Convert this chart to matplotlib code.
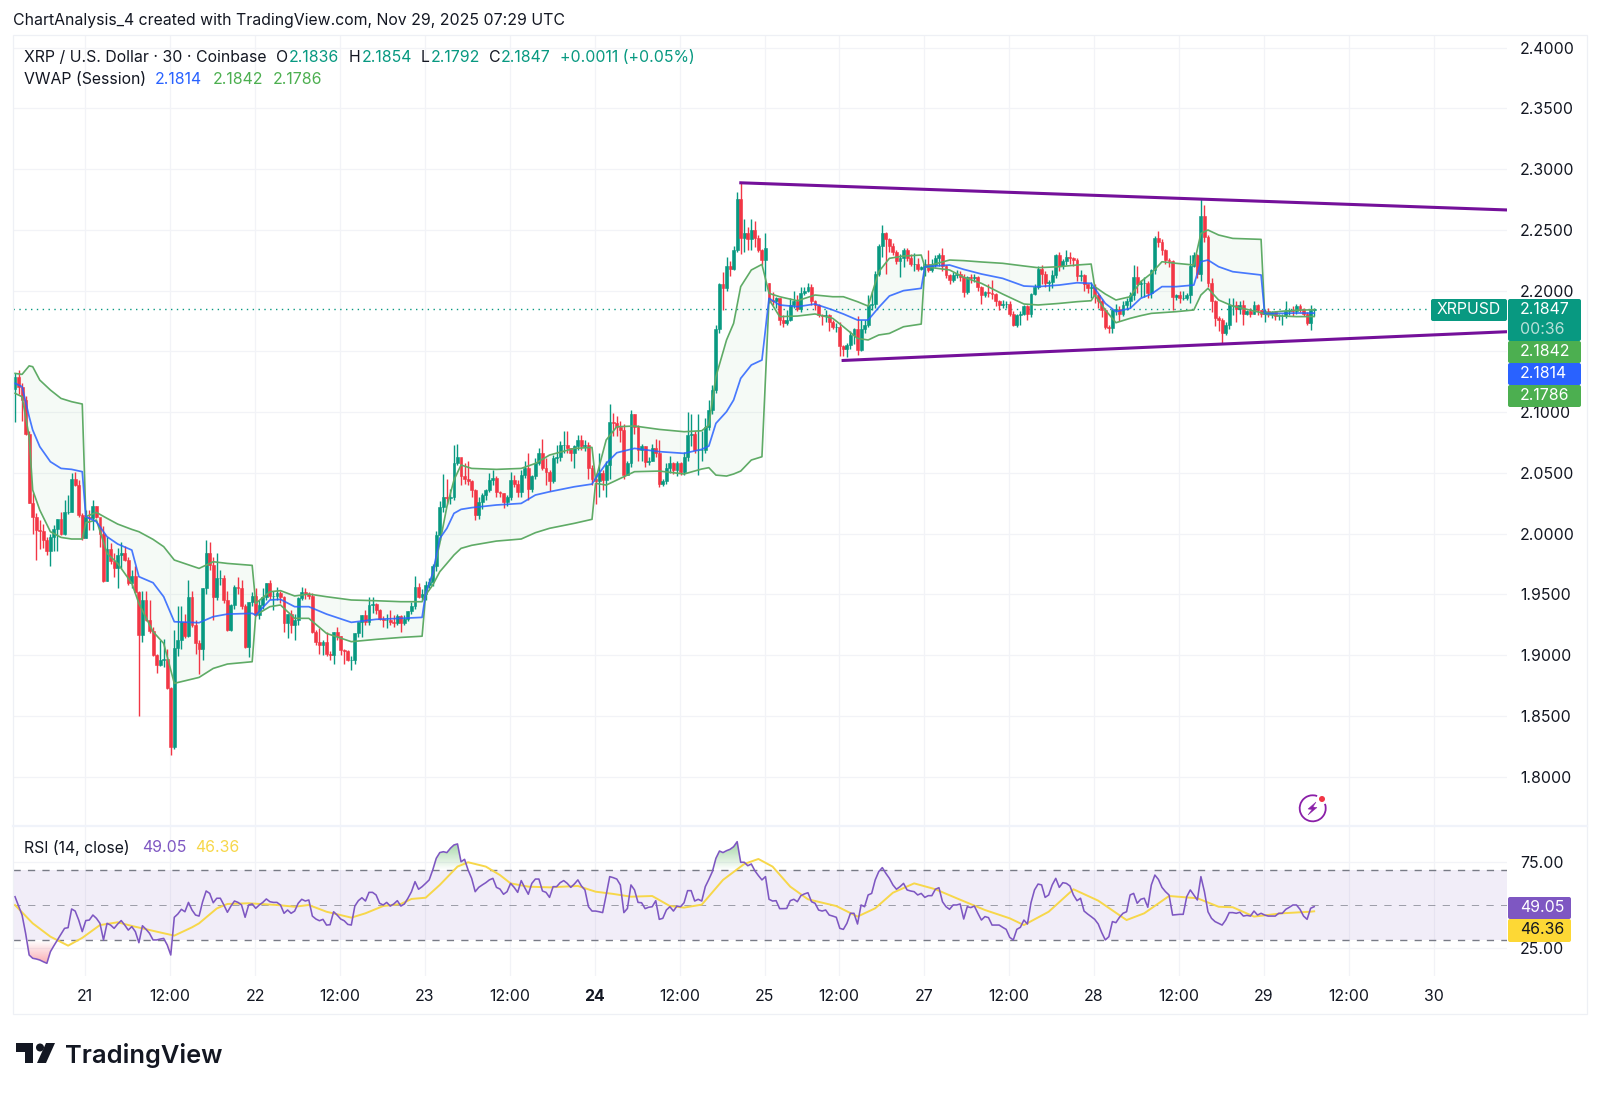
import numpy as np
import matplotlib
matplotlib.use("Agg")
import matplotlib.pyplot as plt
from matplotlib.patches import FancyBboxPatch, Polygon, Circle, Arc, Rectangle, PathPatch
from matplotlib.path import Path

plt.rcParams['font.family'] = ['Inter', 'DejaVu Sans']

# 30 minute candles
closes = [
    2.129,2.121,2.110,2.082,2.025,2.014,2.003,2.002,1.995,1.986,
    1.997,2.004,2.012,2.000,2.018,2.018,2.045,2.040,2.015,1.996,
    2.014,2.013,2.023,2.014,2.000,1.961,1.987,1.977,1.972,1.982,
    1.984,1.978,1.959,1.965,1.952,1.9165,1.945,1.929,1.920,1.900,
    1.892,1.896,1.897,1.873,1.8245,1.9055,1.912,1.927,1.916,1.948,
    1.925,1.910,1.905,1.955,1.984,1.974,1.948,1.963,1.963,1.945,
    1.921,1.941,1.956,1.955,1.940,1.907,1.944,1.949,1.933,1.941,
    1.948,1.959,1.949,1.949,1.951,1.948,1.926,1.934,1.925,1.929,
    1.947,1.952,1.950,1.949,1.919,1.911,1.908,1.911,1.901,1.900,
    1.919,1.916,1.904,1.903,1.896,1.896,1.918,1.927,1.933,1.927,
    1.941,1.942,1.937,1.930,1.929,1.929,1.927,1.926,1.932,1.926,
    1.930,1.936,1.940,1.956,1.948,1.950,1.958,1.960,1.973,1.999,
    2.022,2.030,2.029,2.030,2.058,2.063,2.047,2.045,2.043,2.036,
    2.015,2.026,2.032,2.036,2.044,2.046,2.034,2.033,2.026,2.030,
    2.044,2.041,2.034,2.048,2.054,2.037,2.047,2.058,2.066,2.054,
    2.051,2.043,2.062,2.063,2.073,2.073,2.070,2.066,2.072,2.077,
    2.072,2.073,2.054,2.045,2.043,2.050,2.044,2.056,2.092,2.091,
    2.088,2.085,2.048,2.058,2.098,2.088,2.069,2.072,2.059,2.060,
    2.070,2.066,2.041,2.043,2.054,2.058,2.052,2.058,2.051,2.063,
    2.081,2.082,2.069,2.069,2.069,2.088,2.102,2.118,2.168,2.205,
    2.202,2.220,2.218,2.233,2.275,2.243,2.247,2.242,2.250,2.243,
    2.233,2.225,2.235,2.192,2.191,2.194,2.176,2.173,2.176,2.188,
    2.191,2.185,2.198,2.200,2.203,2.191,2.188,2.180,2.179,2.180,
    2.174,2.170,2.170,2.154,2.152,2.155,2.163,2.168,2.151,2.168,
    2.172,2.188,2.189,2.214,2.237,2.247,2.242,2.237,2.232,2.224,
    2.227,2.233,2.227,2.222,2.222,2.218,2.219,2.222,2.217,2.221,
    2.227,2.229,2.220,2.213,2.209,2.213,2.214,2.211,2.199,2.211,
    2.210,2.211,2.203,2.196,2.199,2.198,2.197,2.191,2.188,2.189,
    2.189,2.181,2.172,2.180,2.181,2.187,2.181,2.197,2.203,2.218,
    2.214,2.206,2.207,2.213,2.229,2.220,2.224,2.228,2.227,2.225,
    2.212,2.213,2.205,2.202,2.203,2.196,2.191,2.184,2.170,2.169,
    2.184,2.185,2.181,2.188,2.191,2.196,2.211,2.205,2.206,2.206,
    2.198,2.217,2.243,2.240,2.233,2.225,2.224,2.195,2.196,2.194,
    2.194,2.196,2.220,2.229,2.214,2.261,2.244,2.206,2.191,2.177,
    2.176,2.165,2.172,2.188,2.188,2.185,2.188,2.181,2.183,2.181,
    2.188,2.184,2.181,2.183,2.181,2.182,2.179,2.179,2.179,2.183,
    2.184,2.183,2.187,2.185,2.181,2.173,2.1836,2.1847,
]
highs = [
    2.132,2.135,2.124,2.113,2.084,2.033,2.017,2.011,2.008,1.997,
    2.000,2.007,2.012,2.018,2.028,2.032,2.050,2.051,2.044,2.017,
    2.019,2.019,2.028,2.023,2.006,2.006,1.997,1.992,1.984,1.988,
    1.993,1.990,1.981,1.970,1.973,1.953,1.953,1.953,1.945,1.923,
    1.901,1.912,1.913,1.905,1.874,1.921,1.940,1.940,1.934,1.962,
    1.953,1.929,1.912,1.955,1.995,1.993,1.981,1.984,1.970,1.966,
    1.953,1.942,1.958,1.964,1.962,1.942,1.944,1.952,1.955,1.945,
    1.955,1.959,1.962,1.953,1.956,1.953,1.949,1.934,1.937,1.934,
    1.948,1.956,1.955,1.952,1.951,1.921,1.922,1.912,1.919,1.903,
    1.919,1.923,1.916,1.905,1.904,1.899,1.918,1.927,1.933,1.937,
    1.948,1.948,1.943,1.938,1.932,1.934,1.937,1.933,1.934,1.933,
    1.933,1.936,1.944,1.965,1.959,1.954,1.961,1.963,1.975,2.002,
    2.027,2.049,2.045,2.037,2.073,2.074,2.062,2.058,2.060,2.044,
    2.037,2.030,2.033,2.037,2.050,2.052,2.047,2.035,2.033,2.032,
    2.051,2.048,2.044,2.052,2.060,2.066,2.048,2.062,2.070,2.078,
    2.062,2.052,2.065,2.073,2.076,2.084,2.084,2.070,2.073,2.081,
    2.081,2.077,2.075,2.056,2.050,2.066,2.052,2.060,2.107,2.099,
    2.097,2.093,2.090,2.060,2.102,2.098,2.089,2.074,2.072,2.063,
    2.074,2.078,2.077,2.045,2.058,2.064,2.059,2.060,2.059,2.067,
    2.100,2.098,2.084,2.098,2.084,2.095,2.110,2.122,2.172,2.206,
    2.215,2.228,2.224,2.237,2.281,2.289,2.259,2.252,2.259,2.257,
    2.246,2.234,2.247,2.206,2.199,2.195,2.194,2.180,2.184,2.194,
    2.200,2.196,2.203,2.203,2.206,2.205,2.192,2.189,2.181,2.184,
    2.181,2.176,2.173,2.174,2.155,2.157,2.167,2.169,2.179,2.176,
    2.176,2.196,2.200,2.216,2.238,2.254,2.248,2.243,2.239,2.233,
    2.230,2.235,2.235,2.230,2.231,2.227,2.220,2.226,2.233,2.226,
    2.229,2.231,2.235,2.221,2.214,2.215,2.217,2.216,2.214,2.212,
    2.214,2.214,2.212,2.204,2.200,2.205,2.209,2.198,2.192,2.192,
    2.191,2.191,2.183,2.181,2.183,2.188,2.188,2.198,2.205,2.220,
    2.221,2.216,2.209,2.217,2.230,2.232,2.226,2.233,2.232,2.228,
    2.227,2.217,2.214,2.205,2.207,2.205,2.198,2.193,2.186,2.172,
    2.185,2.189,2.187,2.191,2.194,2.199,2.221,2.220,2.209,2.211,
    2.208,2.218,2.245,2.249,2.242,2.234,2.227,2.225,2.197,2.200,
    2.200,2.198,2.229,2.232,2.230,2.276,2.270,2.246,2.210,2.192,
    2.179,2.177,2.174,2.194,2.194,2.191,2.191,2.192,2.184,2.186,
    2.191,2.189,2.184,2.185,2.186,2.183,2.183,2.181,2.181,2.191,
    2.186,2.187,2.189,2.189,2.186,2.182,2.188,2.1854,
]
lows = [
    2.092,2.115,2.093,2.081,2.025,2.000,1.978,1.987,1.988,1.982,
    1.973,1.986,1.986,1.999,1.999,2.016,2.018,2.039,2.014,1.995,
    1.996,2.003,2.003,2.013,1.989,1.960,1.961,1.975,1.964,1.955,
    1.972,1.977,1.958,1.955,1.951,1.850,1.911,1.928,1.918,1.899,
    1.885,1.891,1.890,1.872,1.818,1.823,1.899,1.905,1.914,1.915,
    1.923,1.901,1.884,1.896,1.950,1.970,1.929,1.945,1.958,1.943,
    1.920,1.920,1.938,1.950,1.938,1.906,1.898,1.940,1.932,1.930,
    1.938,1.945,1.946,1.937,1.945,1.943,1.919,1.914,1.918,1.912,
    1.925,1.945,1.946,1.946,1.918,1.908,1.901,1.900,1.899,1.896,
    1.893,1.912,1.900,1.893,1.895,1.888,1.893,1.915,1.915,1.925,
    1.925,1.935,1.934,1.929,1.923,1.922,1.925,1.923,1.925,1.919,
    1.925,1.928,1.934,1.938,1.947,1.945,1.945,1.955,1.957,1.969,
    1.995,2.018,2.024,2.024,2.028,2.056,2.040,2.041,2.040,2.030,
    2.011,2.012,2.020,2.028,2.034,2.040,2.030,2.030,2.021,2.023,
    2.028,2.038,2.030,2.030,2.046,2.028,2.034,2.045,2.056,2.052,
    2.040,2.035,2.042,2.058,2.060,2.066,2.066,2.060,2.054,2.069,
    2.069,2.068,2.045,2.040,2.024,2.030,2.036,2.030,2.045,2.080,
    2.080,2.075,2.045,2.048,2.055,2.082,2.060,2.060,2.055,2.056,
    2.060,2.063,2.038,2.039,2.041,2.050,2.049,2.047,2.048,2.048,
    2.060,2.072,2.066,2.048,2.060,2.066,2.085,2.098,2.116,2.165,
    2.184,2.200,2.212,2.217,2.232,2.230,2.232,2.233,2.233,2.236,
    2.232,2.221,2.200,2.190,2.188,2.186,2.172,2.170,2.172,2.175,
    2.186,2.183,2.182,2.196,2.199,2.188,2.184,2.178,2.172,2.174,
    2.167,2.168,2.166,2.146,2.146,2.145,2.152,2.156,2.147,2.150,
    2.165,2.170,2.184,2.186,2.212,2.228,2.214,2.232,2.229,2.222,
    2.211,2.219,2.224,2.220,2.216,2.216,2.217,2.212,2.215,2.215,
    2.219,2.220,2.216,2.210,2.205,2.207,2.210,2.208,2.195,2.197,
    2.206,2.207,2.200,2.189,2.195,2.195,2.193,2.187,2.184,2.186,
    2.186,2.179,2.171,2.170,2.172,2.180,2.176,2.178,2.196,2.201,
    2.205,2.203,2.200,2.202,2.210,2.216,2.218,2.221,2.222,2.220,
    2.208,2.208,2.200,2.198,2.194,2.190,2.186,2.178,2.168,2.165,
    2.165,2.180,2.175,2.179,2.184,2.186,2.192,2.198,2.195,2.195,
    2.194,2.194,2.214,2.236,2.229,2.222,2.219,2.184,2.192,2.190,
    2.192,2.192,2.190,2.219,2.210,2.208,2.240,2.203,2.182,2.171,
    2.167,2.156,2.163,2.168,2.180,2.174,2.181,2.172,2.180,2.178,
    2.181,2.180,2.178,2.174,2.178,2.177,2.176,2.176,2.172,2.177,
    2.180,2.179,2.181,2.182,2.179,2.172,2.1675,2.1792,
]
first_open = 2.119
# open price of the bar after the jump on the 25th
gap_opens = {213: 2.206}

# session VWAP and bands, one run per session
session_starts = [0, 20, 68, 116, 164, 213, 257, 305, 353, 368]
vwap_x = [0,2,4,5,7,10,13,16,19,
          20,23,26,29,33,35,39,42,45,52,56,60,67,
          68,72,75,79,83,88,95,102,109,115,
          116,118,120,122,124,126,129,136,143,147,151,158,163,
          164,167,170,175,182,189,194,196,198,201,203,205,208,211,
          213,216,221,226,231,234,238,241,244,247,251,256,
          257,264,268,273,279,285,289,295,300,304,
          305,308,311,315,318,321,324,328,333,335,337,340,344,352,
          353,358,362,367]
vwap_upper = [2.1318,2.1310,2.1380,2.1373,2.1263,2.1181,2.1112,2.1085,2.1066,
              2.0139,2.0174,2.0125,2.0078,2.0034,2.0015,1.9952,1.9892,1.9782,1.9713,1.9768,1.9754,1.9738,
              1.9425,1.9521,1.9530,1.9486,1.9502,1.9480,1.9453,1.9447,1.9439,1.9439,
              1.9508,1.9658,1.9919,2.0221,2.0440,2.0564,2.0536,2.0528,2.0536,2.0577,2.0646,2.0701,2.0709,
              2.0440,2.0770,2.0879,2.0885,2.0857,2.0838,2.0846,2.0893,2.1291,2.1593,2.1730,2.2032,2.2169,2.2215,
              2.1977,2.1949,2.1916,2.1963,2.1949,2.1949,2.1908,2.1872,2.2155,2.2265,2.2284,2.2292,
              2.2196,2.2251,2.2246,2.2235,2.2224,2.2202,2.2188,2.2196,2.2210,2.2218,
              2.2032,2.1971,2.1922,2.1949,2.2073,2.2141,2.2237,2.2224,2.2210,2.2470,2.2498,2.2457,2.2429,2.2421,
              2.1815,2.1830,2.1838,2.1842]
vwap_basis = [2.1236,2.1209,2.0962,2.0852,2.0715,2.0591,2.0536,2.0528,2.0509,
              2.0139,2.0097,1.9974,1.9914,1.9864,1.9645,1.9595,1.9480,1.9274,1.9266,1.9316,1.9337,1.9343,
              1.9329,1.9453,1.9458,1.9398,1.9398,1.9337,1.9269,1.9294,1.9302,1.9310,
              1.9508,1.9672,1.9960,2.0043,2.0166,2.0199,2.0213,2.0235,2.0248,2.0317,2.0344,2.0385,2.0407,
              2.0454,2.0577,2.0665,2.0701,2.0674,2.0660,2.0693,2.0720,2.0907,2.1003,2.1099,2.1277,2.1387,2.1428,
              2.1936,2.1881,2.1867,2.1889,2.1840,2.1807,2.1757,2.1757,2.1861,2.1955,2.1999,2.2018,
              2.2196,2.2210,2.2174,2.2136,2.2100,2.2037,2.2032,2.2045,2.2064,2.2059,
              2.2018,2.1894,2.1826,2.1853,2.1936,2.1971,2.2032,2.2032,2.2045,2.2237,2.2251,2.2196,2.2155,2.2128,
              2.1810,2.1812,2.1815,2.1814]
vwap_lower = [2.1154,2.1126,2.0797,2.0358,2.0193,2.0015,1.9968,1.9955,1.9955,
              2.0089,2.0111,1.9837,1.9754,1.9590,1.9425,1.9192,1.9096,1.8767,1.8816,1.8890,1.8926,1.8945,
              1.9329,1.9398,1.9412,1.9302,1.9302,1.9178,1.9110,1.9129,1.9145,1.9155,
              1.9494,1.9576,1.9686,1.9754,1.9823,1.9878,1.9903,1.9938,1.9955,2.0007,2.0043,2.0084,2.0117,
              2.0413,2.0399,2.0440,2.0509,2.0514,2.0490,2.0531,2.0542,2.0481,2.0473,2.0490,2.0514,2.0605,2.0632,
              2.1927,2.1785,2.1790,2.1807,2.1771,2.1702,2.1606,2.1593,2.1634,2.1647,2.1702,2.1724,
              2.2196,2.2169,2.2109,2.2059,2.1971,2.1889,2.1881,2.1894,2.1908,2.1916,
              2.1963,2.1840,2.1735,2.1771,2.1793,2.1812,2.1818,2.1826,2.1840,2.1963,2.2018,2.1922,2.1872,2.1818,
              2.1805,2.1790,2.1785,2.1786]

# purple trendlines drawn on the chart
trend_upper_x = [204.6, 421.5]
trend_upper_y = [2.2887, 2.2663]
trend_lower_x = [233.5, 421.5]
trend_lower_y = [2.1424, 2.1661]

rsi = [
    54.8,49.5,44.2,33.6,21.1,19.2,18.8,18.2,17.2,16.3,
    23.0,26.5,29.8,33.0,36.5,36.9,47.7,46.5,41.3,34.6,
    41.0,41.3,44.2,42.3,39.4,29.8,39.4,38.4,36.5,39.0,
    41.0,38.4,35.5,37.5,34.6,28.2,38.0,36.0,33.6,29.8,
    29.8,30.3,30.7,26.9,21.1,42.9,44.8,47.5,46.1,51.5,
    47.1,44.2,43.6,51.9,58.1,56.7,51.3,53.9,53.9,50.0,
    45.8,49.4,52.3,51.5,50.0,42.9,50.0,50.6,48.1,50.0,
    51.5,53.5,51.9,51.5,51.5,50.0,45.2,47.1,45.2,46.5,
    51.0,53.3,52.3,52.9,43.6,41.9,40.9,41.7,38.4,38.6,
    46.1,44.2,41.9,40.9,38.8,38.4,49.4,52.5,54.2,52.3,
    57.3,57.3,55.8,51.0,50.0,51.5,49.4,50.6,52.5,49.4,
    50.6,53.9,57.7,63.5,59.1,60.6,62.5,64.5,70.2,77.0,
    80.3,80.8,80.3,82.8,84.7,85.3,75.0,76.4,70.2,65.4,
    57.7,60.2,61.6,62.9,64.5,65.4,60.2,59.2,56.2,57.7,
    62.5,60.2,57.3,64.1,60.0,56.2,62.5,65.0,65.0,58.1,
    57.3,54.4,60.6,60.6,62.9,64.1,62.5,60.2,62.1,64.5,
    61.0,58.7,49.0,46.5,46.5,46.1,45.6,55.8,66.4,65.8,
    65.0,61.6,45.6,48.0,61.6,58.7,51.5,51.3,47.9,48.7,
    49.0,52.5,41.7,42.3,47.1,49.0,46.5,49.4,49.0,51.3,
    58.3,58.3,52.3,53.3,52.3,60.6,64.8,69.3,77.0,81.2,
    80.3,81.4,82.2,83.7,86.6,74.7,74.7,72.7,73.7,69.8,
    67.0,64.5,66.4,53.3,52.3,52.5,47.9,47.9,48.0,52.5,
    53.3,51.9,55.4,56.4,57.1,51.9,51.0,47.1,46.5,47.1,
    44.2,43.6,42.9,36.5,35.9,39.4,45.2,45.2,39.0,50.0,
    49.0,55.8,56.7,64.5,69.3,71.6,68.3,65.4,61.6,59.1,
    60.6,62.5,58.7,58.1,57.7,55.8,56.7,54.4,55.4,55.4,
    59.1,60.0,51.9,49.0,47.5,50.0,50.0,50.6,41.9,49.0,
    48.5,49.4,45.2,41.3,43.3,42.7,38.4,38.4,38.4,37.1,
    35.9,31.3,29.8,35.9,37.1,41.3,39.0,51.3,58.7,62.1,
    61.6,54.4,55.8,61.6,65.4,60.2,62.9,62.5,61.0,55.8,
    52.5,53.9,46.5,44.8,43.3,41.7,39.0,34.0,29.8,31.7,
    40.4,39.8,42.9,45.2,46.1,55.8,56.7,51.0,53.3,53.9,
    48.7,61.6,67.3,64.8,60.2,57.7,55.8,44.2,44.4,44.6,
    44.6,54.8,58.7,55.8,52.9,66.4,57.7,46.1,42.3,40.4,
    39.4,38.4,41.3,45.6,45.6,45.2,45.8,43.6,44.0,43.6,
    46.5,44.2,45.2,44.2,43.6,43.6,43.6,45.2,45.2,47.5,
    48.7,50.0,50.0,47.5,43.6,41.7,48.1,49.05,
]
rsi_ma_x = [0,5,10,15,19,24,29,33,40,45,50,52,57,60,66,74,79,83,88,95,99,104,109,112,116,
            120,125,128,133,137,140,145,151,159,164,169,174,180,185,189,194,200,206,210,214,
            219,224,232,238,243,248,254,260,266,274,281,285,292,299,306,314,319,326,334,340,344,350,358,366,367]
rsi_ma = [50.0,39.4,31.7,26.5,31.0,38.4,40.0,37.9,34.6,32.3,37.1,39.4,48.0,50.6,51.0,50.0,49.0,50.0,46.1,42.7,45.2,49.4,50.6,53.5,54.2,
          61.6,72.2,74.7,72.2,67.3,62.5,60.6,60.2,61.0,57.7,56.4,54.8,55.2,49.4,48.5,50.2,64.5,73.7,76.6,72.2,
          60.6,53.3,49.4,43.3,48.1,57.1,62.5,59.1,53.9,47.1,42.3,38.4,46.1,59.1,52.5,41.3,45.2,55.2,53.9,49.0,48.7,43.3,45.2,46.14,46.36]

price_ticks = [1.80,1.85,1.90,1.95,2.00,2.05,2.10,2.15,2.20,2.25,2.30,2.35,2.40]
time_ticks = [19.8,43.8,67.8,91.8,115.8,139.8,163.8,187.8,211.8,232.8,256.8,280.8,304.8,328.8,352.8,376.8,400.8]
time_labels = ['21','12:00','22','12:00','23','12:00','24','12:00','25','12:00','27','12:00','28','12:00','29','12:00','30']

UP = '#089981'
DOWN = '#F23645'
GRID = '#F2F3F7'
TEXT = '#131722'
PURPLE = '#7E57C2'
YELLOW = '#F7D74A'
BAND_GREEN = '#5FAB66'
BLUE = '#2962FF'
FS = 11.4
W, H = 1600, 1094

fig = plt.figure(figsize=(16, 10.94), dpi=100, facecolor='white')
ax = fig.add_axes([13/W, (H-826)/H, 1494/W, (826-35)/H])
ax_rsi = fig.add_axes([13/W, (H-976)/H, 1494/W, 150/H], sharex=ax)
for a in (ax, ax_rsi):
    for s in a.spines.values():
        s.set_visible(False)
    a.set_axisbelow(True)
    a.grid(True, color=GRID, lw=0.9)
    a.yaxis.tick_right()
    a.tick_params(length=0, labelcolor=TEXT, labelsize=FS)

# candles
x = np.arange(len(closes))
closes_a = np.array(closes)
opens_a = np.r_[first_open, closes_a[:-1]]
for k, v in gap_opens.items():
    opens_a[k] = v
colors = [UP if c >= o else DOWN for o, c in zip(opens_a, closes_a)]
ax.vlines(x, lows, highs, colors=colors, lw=1.0, zorder=3)
ax.bar(x, closes_a - opens_a, bottom=opens_a, width=0.82, color=colors, edgecolor=colors, linewidth=0.4, zorder=3)

# vwap bands
vx = np.array(vwap_x)
vu = np.array(vwap_upper)
vl = np.array(vwap_lower)
for a, b in zip(session_starts[:-1], session_starts[1:]):
    m = (vx >= a) & (vx < b)
    ax.fill_between(vx[m], vl[m], vu[m], color='#4CAF50', alpha=0.05, lw=0, zorder=1)
ax.plot(vx, vu, color=BAND_GREEN, lw=1.2, zorder=4)
ax.plot(vx, vl, color=BAND_GREEN, lw=1.2, zorder=4)
ax.plot(vx, vwap_basis, color=BLUE, lw=1.25, alpha=0.85, zorder=4)

ax.axhline(closes[-1], color=UP, lw=1.0, ls=(0, (1, 3.2)), zorder=2)
ax.plot(trend_upper_x, trend_upper_y, color='#74109A', lw=2.2, zorder=5, solid_capstyle='butt')
ax.plot(trend_lower_x, trend_lower_y, color='#74109A', lw=2.2, zorder=5, solid_capstyle='butt')

ax.set_xlim(-0.565, 421.47)
ax.set_ylim(1.7593, 2.4103)
ax.set_yticks(price_ticks)
ax.set_yticklabels(['%.4f' % p for p in price_ticks])
ax.tick_params(axis='y', pad=9.4)
ax.tick_params(axis='x', labelbottom=False)
ax.set_xticks(time_ticks)


def gradient_fill(a, xs, ys, level, far, color, where):
    # overbought/oversold patch, fading out towards the 70/30 level
    poly = a.fill_between(xs, level, ys, where=where, interpolate=True, color='none', lw=0)
    patch = PathPatch(Path.make_compound_path(*poly.get_paths()), transform=a.transData, fc='none', ec='none')
    a.add_patch(patch)
    rgba = np.zeros((64, 1, 4))
    rgba[..., :3] = matplotlib.colors.to_rgb(color)
    rgba[:, 0, 3] = np.linspace(0, 0.55, 64) if far > level else np.linspace(0.45, 0, 64)
    lo, hi = min(level, far), max(level, far)
    im = a.imshow(rgba, extent=(xs[0], xs[-1], lo, hi), origin='lower', aspect='auto', zorder=2)
    im.set_clip_path(patch)


# rsi pane
rsi_a = np.array(rsi)
ax_rsi.axhspan(30, 70, color=PURPLE, alpha=0.1, lw=0, zorder=1)
gradient_fill(ax_rsi, x, rsi_a, 70, 87, '#4CAF50', rsi_a > 70)
gradient_fill(ax_rsi, x, rsi_a, 30, 15, '#F23645', rsi_a < 30)
ax_rsi.axhline(70, color='#787B86', lw=1.0, ls=(0, (5.2, 5.2)), zorder=2)
ax_rsi.axhline(50, color='#787B86', lw=0.7, alpha=0.7, ls=(0, (7.5, 7.5)), zorder=2)
ax_rsi.axhline(30, color='#787B86', lw=1.0, ls=(0, (5.2, 5.2)), zorder=2)
ax_rsi.plot(x, rsi_a, color=PURPLE, lw=1.15, zorder=4)
ax_rsi.plot(rsi_ma_x, rsi_ma, color=YELLOW, lw=1.4, zorder=3)
ax_rsi.set_xlim(-0.565, 421.47)
ax_rsi.set_ylim(8.96, 95.66)
ax_rsi.set_yticks([25, 75])
ax_rsi.set_yticklabels(['25.00', '75.00'])
ax_rsi.tick_params(axis='y', pad=9.4)
ax_rsi.set_xticks(time_ticks)
ax_rsi.set_xticklabels(time_labels)
ax_rsi.tick_params(axis='x', pad=9.5)
for lab in ax_rsi.get_xticklabels():
    if lab.get_text() == '24':
        lab.set_fontweight('bold')

# everything else goes on a pixel overlay
ov = fig.add_axes([0, 0, 1, 1], zorder=10)
ov.set_xlim(0, W)
ov.set_ylim(H, 0)
ov.axis('off')
ov.add_patch(Rectangle((13, 35), 1574, 979, fc='none', ec='#EEF0F5', lw=0.9))
ov.plot([13, 1587], [826, 826], color='#F0F3FA', lw=1.6)


def label(px, py, s, color=TEXT, size=FS, **kw):
    ov.text(px, py, s, color=color, fontsize=size, va='center', ha=kw.pop('ha', 'left'), **kw)


def badge(x0, y0, x1, y1, color):
    ov.add_patch(FancyBboxPatch((x0, y0), x1-x0, y1-y0, boxstyle='round,pad=0,rounding_size=2',
                                fc=color, ec='none', mutation_aspect=1))


label(13, 21, 'ChartAnalysis_4 created with TradingView.com, Nov 29, 2025 07:29 UTC')
label(24.5, 57, 'XRP / U.S. Dollar · 30 · Coinbase')
for px, s in zip((276, 348.6, 421, 489), 'OHLC'):
    label(px, 57, s)
for px, s in zip((289, 361.6, 431, 501, 560), ('2.1836', '2.1854', '2.1792', '2.1847', '+0.0011 (+0.05%)')):
    label(px, 57, s, color=UP)
label(24.5, 80, 'VWAP (Session)')
label(155, 80, '2.1814', color=BLUE)
label(213, 80, '2.1842', color='#4CAF50')
label(273, 80, '2.1786', color='#4CAF50')
label(24.3, 848, 'RSI (14, close)')
label(141.7, 848, '49.05', color=PURPLE)
label(195, 848, '46.36', color=YELLOW)

badge(1431, 299, 1507, 321, UP)
label(1469, 310, 'XRPUSD', color='white', ha='center')
badge(1508, 299, 1581, 341, UP)
label(1520, 310, '2.1847', color='white')
label(1520, 329, '00:36', color='#B9E0D9')
badge(1508, 341, 1581, 363, '#4CAF50')
label(1520, 352, '2.1842', color='white')
badge(1508, 363, 1581, 385, BLUE)
label(1520, 374, '2.1814', color='white')
badge(1508, 385, 1581, 407, '#4CAF50')
label(1520, 396, '2.1786', color='white')
badge(1508, 897, 1571, 919, PURPLE)
label(1520, 908, '49.05', color='white')
badge(1508, 919, 1571, 942, '#FDD835')
label(1520, 930, '46.36', color=TEXT)

# tradingview logo
ov.add_patch(Polygon([(16, 1043), (33, 1043), (33, 1063), (24.5, 1063), (24.5, 1052), (16, 1052)], fc=TEXT, ec='none'))
ov.add_patch(Circle((40, 1047.5), 4, fc=TEXT, ec='none'))
ov.add_patch(Polygon([(46, 1043), (55, 1043), (46, 1063), (37, 1063)], fc=TEXT, ec='none'))
label(65, 1055, 'TradingView', size=18.3, fontweight='semibold')

# lightning icon
ICON = '#8A1FA8'
ov.add_patch(Arc((1312.7, 808.3), 26, 26, theta1=-20, theta2=290, ec=ICON, lw=1.3))
ov.add_patch(Polygon([(1316, 802), (1308, 809), (1312, 809.5), (1308, 815), (1317, 807.5), (1313, 807)], fc=ICON, ec=ICON, lw=0.3))
ov.add_patch(Circle((1322, 799), 3, fc='#F23645', ec='none'))

fig.savefig('out.png', dpi=100, facecolor='white')
